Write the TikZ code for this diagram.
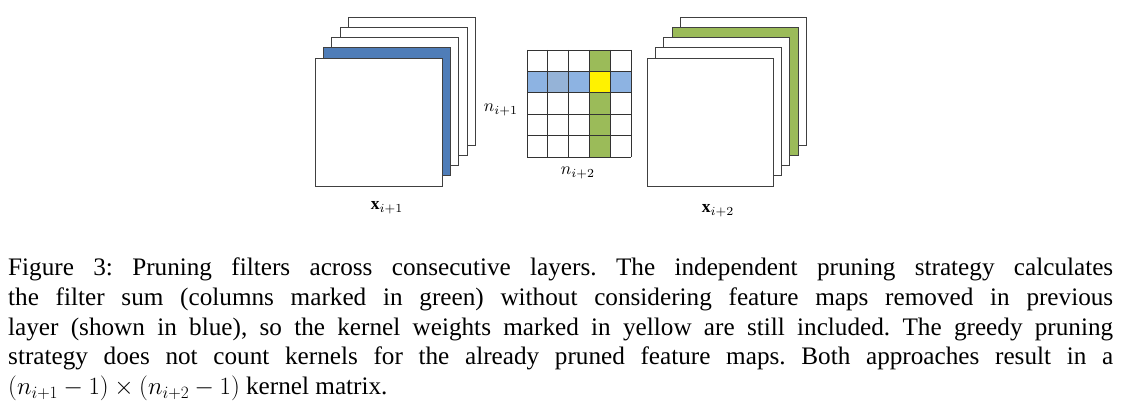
\documentclass[tikz,border=0pt]{standalone}
\usepackage{fontspec}
\setmainfont{Liberation Serif}
\frenchspacing
\begin{document}
\begin{tikzpicture}[x=1pt,y=-1pt,
  sheet/.style={draw=black!75,line width=0.8pt,fill=white},
  cell/.style={draw=black!80,line width=0.7pt},
  lbl/.style={scale=1.75}]
\useasboundingbox (0,0) rectangle (1122,409);
\definecolor{dblue}{HTML}{4F7DB8}
\definecolor{lblue}{HTML}{8DB3E2}
\definecolor{mblue}{HTML}{95B3D7}
\definecolor{fgreen}{HTML}{9BBB59}
% left stack
\foreach \i/\c in {4/white,3/white,2/white,1/dblue,0/white}{
  \path[sheet,fill=\c] ({315+8.4*\i},{58-10.2*\i}) rectangle ++(127,128);}
% right stack
\foreach \i/\c in {4/white,3/fgreen,2/white,1/white,0/white}{
  \path[sheet,fill=\c] ({647+8.4*\i},{58-10.2*\i}) rectangle ++(126,128);}
% grid
\fill[lblue] (527,71.4) rectangle (631,92.8);
\fill[mblue] (547.8,71.4) rectangle (568.6,92.8);
\fill[fgreen] (589.4,50) rectangle (610.2,157);
\fill[yellow] (589.4,71.4) rectangle (610.2,92.8);
\foreach \k in {0,...,5}{
  \draw[cell] ({527+20.8*\k},50) -- ({527+20.8*\k},157);
  \draw[cell] (527,{50+21.4*\k}) -- (631,{50+21.4*\k});}
\node[lbl] (na) at (501,110) {$n_{i+1}$};
\node[lbl] (nb) at (578,173) {$n_{i+2}$};
\node[lbl] (xa) at (387,208) {$\mathbf{x}_{i+1}$};
\node[lbl] (xb) at (718,211) {$\mathbf{x}_{i+2}$};
\node[anchor=north west,inner sep=0pt,text width=1105pt,align=justify,
  font=\fontsize{25.2}{29.6}\selectfont] (cap) at (8,258) {Figure 3: Pruning filters across consecutive layers. The independent pruning strategy calculates\linebreak
the filter sum (columns marked in green) without considering feature maps removed in previous\linebreak
layer (shown in blue), so the kernel weights marked in yellow are still included. The greedy pruning\linebreak
strategy does not count kernels for the already pruned feature maps. Both approaches result in a\linebreak
$(n_{i+1}-1)\times(n_{i+2}-1)$ kernel matrix.};
\end{tikzpicture}
\end{document}
